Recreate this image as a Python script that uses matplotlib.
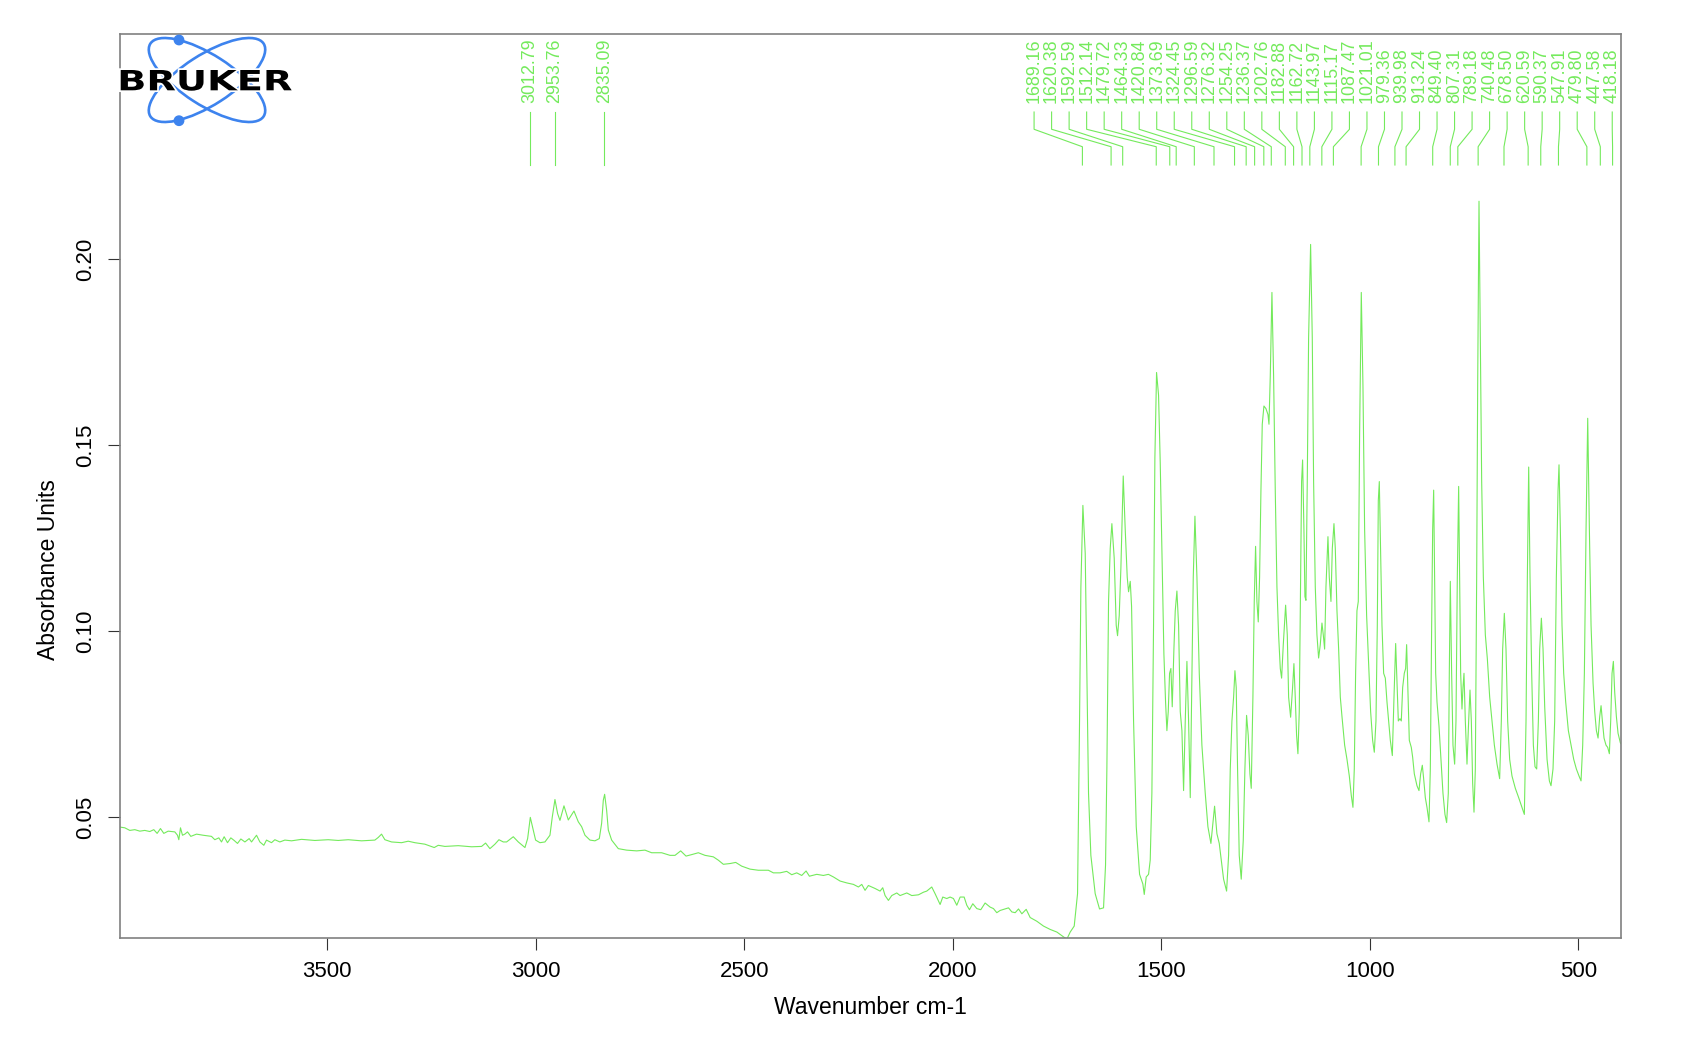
import numpy as np
import matplotlib
matplotlib.use("Agg")
import matplotlib.pyplot as plt
from matplotlib.patches import Ellipse, Circle, PathPatch
from matplotlib.textpath import TextPath
from matplotlib.font_manager import FontProperties
from matplotlib.transforms import Affine2D, blended_transform_factory

# ---------------- data ----------------
# region 1: 4000 - 2940 cm-1
wn_r1 = [3996.8, 3984.8, 3972.8, 3960.8, 3948.8, 3936.9, 3924.9, 3915.3, 3907.3, 3899.3,
         3891.3, 3880.9, 3864.9, 3858.5, 3855.3, 3851.3, 3846.5, 3840.9, 3834.5, 3826.5,
         3812.9, 3796.9, 3777.0, 3769.0, 3759.4, 3753.0, 3746.6, 3738.6, 3730.6, 3722.6,
         3714.6, 3706.6, 3696.9, 3686.7, 3681.0, 3669.0, 3661.0, 3651.5, 3645.1, 3633.1,
         3625.1, 3613.1, 3601.1, 3585.1, 3561.1, 3529.2, 3497.2, 3473.2, 3449.2, 3417.2,
         3385.3, 3377.3, 3369.3, 3361.3, 3345.3, 3321.3, 3305.4, 3289.4, 3265.4, 3243.0,
         3233.4, 3217.4, 3185.4, 3153.4, 3129.5, 3119.9, 3109.5, 3097.5, 3087.9, 3077.5,
         3069.5, 3053.5, 3041.5, 3025.5, 3019.1, 3012.7, 3007.2, 3000.0, 2989.6, 2977.6,
         2965.6, 2960.0, 2953.6, 2947.2, 2941.6]
ab_r1 = [0.0474, 0.0472, 0.0465, 0.0467, 0.0463, 0.0465, 0.0462, 0.0467, 0.0457, 0.0470,
         0.0457, 0.0463, 0.0461, 0.0452, 0.0440, 0.0472, 0.0452, 0.0455, 0.0461, 0.0449,
         0.0455, 0.0452, 0.0449, 0.0440, 0.0445, 0.0434, 0.0448, 0.0432, 0.0445, 0.0438,
         0.0430, 0.0442, 0.0434, 0.0443, 0.0434, 0.0452, 0.0434, 0.0425, 0.0439, 0.0432,
         0.0440, 0.0434, 0.0439, 0.0437, 0.0441, 0.0438, 0.0440, 0.0438, 0.0440, 0.0437,
         0.0439, 0.0446, 0.0455, 0.0440, 0.0434, 0.0432, 0.0436, 0.0432, 0.0428, 0.0419,
         0.0425, 0.0422, 0.0424, 0.0421, 0.0422, 0.0431, 0.0416, 0.0428, 0.0440, 0.0434,
         0.0434, 0.0448, 0.0434, 0.0419, 0.0443, 0.0500, 0.0474, 0.0439, 0.0432, 0.0434,
         0.0452, 0.0501, 0.0548, 0.0510, 0.0492]

# region 2: 2940 - 1890 cm-1
wn_r2 = [2932.0, 2921.6, 2908.0, 2897.6, 2889.6, 2881.6, 2869.7, 2857.7, 2847.3, 2841.7,
         2837.7, 2834.5, 2829.7, 2825.7, 2817.7, 2801.7, 2781.7, 2757.7, 2737.8, 2721.8,
         2697.8, 2677.8, 2665.8, 2652.2, 2639.4, 2625.8, 2609.9, 2593.9, 2573.9, 2561.9,
         2549.9, 2533.9, 2520.3, 2505.9, 2486.0, 2466.0, 2442.0, 2430.0, 2414.0, 2398.0,
         2386.0, 2374.0, 2362.0, 2351.6, 2343.6, 2326.0, 2310.1, 2298.1, 2286.1, 2270.1,
         2254.1, 2238.1, 2226.1, 2218.1, 2210.2, 2202.2, 2194.2, 2186.2, 2174.2, 2167.8,
         2162.2, 2154.2, 2146.2, 2134.2, 2126.2, 2110.2, 2098.2, 2082.2, 2070.2, 2062.3,
         2050.3, 2042.3, 2030.3, 2023.9, 2014.3, 2006.3, 1998.3, 1990.3, 1982.3, 1972.7,
         1966.3, 1959.9, 1951.9, 1942.3, 1932.8, 1922.4, 1910.4, 1902.4, 1894.4]
ab_r2 = [0.0531, 0.0493, 0.0517, 0.0488, 0.0475, 0.0452, 0.0439, 0.0437, 0.0443, 0.0484,
         0.0546, 0.0562, 0.0519, 0.0466, 0.0439, 0.0416, 0.0412, 0.0410, 0.0412, 0.0405,
         0.0405, 0.0398, 0.0398, 0.0410, 0.0396, 0.0400, 0.0405, 0.0398, 0.0394, 0.0385,
         0.0374, 0.0376, 0.0379, 0.0369, 0.0361, 0.0358, 0.0358, 0.0351, 0.0351, 0.0355,
         0.0346, 0.0351, 0.0344, 0.0356, 0.0342, 0.0347, 0.0344, 0.0347, 0.0340, 0.0329,
         0.0324, 0.0320, 0.0313, 0.0320, 0.0304, 0.0317, 0.0313, 0.0309, 0.0302, 0.0311,
         0.0290, 0.0277, 0.0290, 0.0297, 0.0290, 0.0297, 0.0290, 0.0292, 0.0299, 0.0302,
         0.0313, 0.0295, 0.0266, 0.0286, 0.0282, 0.0286, 0.0282, 0.0264, 0.0286, 0.0286,
         0.0264, 0.0252, 0.0268, 0.0255, 0.0252, 0.0270, 0.0259, 0.0255, 0.0244]

# region 3: 1890 - 1390 cm-1
wn_r3 = [1886.3, 1866.3, 1858.3, 1850.3, 1842.3, 1834.3, 1823.9, 1814.4, 1798.4, 1782.4,
         1766.4, 1750.4, 1734.4, 1726.4, 1718.4, 1708.8, 1700.8, 1696.0, 1692.8, 1688.0,
         1682.4, 1678.5, 1674.5, 1668.9, 1658.5, 1648.1, 1638.5, 1633.7, 1630.5, 1626.5,
         1622.5, 1618.5, 1612.9, 1608.1, 1604.9, 1600.9, 1596.9, 1591.3, 1586.5, 1581.7,
         1578.5, 1574.5, 1571.3, 1566.5, 1560.1, 1552.1, 1544.2, 1540.9, 1536.2, 1530.6,
         1526.6, 1522.6, 1518.6, 1515.4, 1511.4, 1506.6, 1502.6, 1497.8, 1493.8, 1489.8,
         1486.6, 1483.4, 1480.2, 1477.0, 1473.8, 1469.8, 1466.6, 1462.6, 1458.6, 1454.6,
         1450.6, 1446.6, 1442.6, 1438.6, 1434.6, 1430.6, 1426.6, 1423.4, 1419.4, 1414.6,
         1409.0, 1402.7, 1394.7]
ab_r3 = [0.0250, 0.0257, 0.0246, 0.0244, 0.0254, 0.0241, 0.0253, 0.0231, 0.0221, 0.0208,
         0.0199, 0.0192, 0.0179, 0.0173, 0.0192, 0.0208, 0.0295, 0.0759, 0.1119, 0.1338,
         0.1209, 0.0887, 0.0565, 0.0398, 0.0295, 0.0254, 0.0257, 0.0372, 0.0630, 0.1080,
         0.1222, 0.1289, 0.1196, 0.1016, 0.0988, 0.1042, 0.1170, 0.1417, 0.1273, 0.1145,
         0.1106, 0.1134, 0.1067, 0.0759, 0.0475, 0.0347, 0.0321, 0.0293, 0.0340, 0.0347,
         0.0385, 0.0565, 0.1016, 0.1466, 0.1695, 0.1634, 0.1453, 0.1170, 0.0939, 0.0810,
         0.0733, 0.0784, 0.0887, 0.0900, 0.0797, 0.0952, 0.1055, 0.1108, 0.1016, 0.0784,
         0.0733, 0.0572, 0.0759, 0.0919, 0.0759, 0.0553, 0.0887, 0.1145, 0.1309, 0.1145,
         0.0887, 0.0694, 0.0565]

# region 4: 1390 - 895 cm-1
wn_r4 = [1388.3, 1381.1, 1377.1, 1372.3, 1366.7, 1361.1, 1356.3, 1350.7, 1343.5, 1338.7,
         1334.7, 1330.7, 1326.7, 1323.5, 1320.4, 1317.2, 1313.2, 1308.4, 1303.6, 1299.6,
         1295.6, 1291.6, 1287.6, 1284.4, 1280.4, 1277.2, 1274.0, 1270.8, 1267.6, 1264.4,
         1261.2, 1258.0, 1254.0, 1249.2, 1244.3, 1241.9, 1238.8, 1234.8, 1230.8, 1226.8,
         1222.8, 1218.8, 1214.8, 1211.6, 1207.6, 1202.0, 1198.0, 1194.8, 1190.0, 1185.3,
         1182.1, 1178.9, 1175.7, 1172.5, 1169.3, 1166.1, 1163.7, 1161.3, 1158.1, 1155.7,
         1153.3, 1150.1, 1146.9, 1142.1, 1138.1, 1134.9, 1130.9, 1126.9, 1122.9, 1118.9,
         1114.9, 1111.7, 1108.5, 1105.3, 1100.5, 1097.3, 1093.3, 1090.1, 1086.1, 1082.9,
         1078.9, 1074.9, 1070.9, 1066.9, 1060.5, 1054.9, 1049.3, 1044.6, 1040.6, 1037.4,
         1034.2, 1031.0, 1027.8, 1024.6, 1020.6, 1016.6, 1012.6, 1007.8, 1003.0, 998.2,
         993.4, 989.4, 985.4, 982.2, 979.8, 977.4, 974.2, 971.0, 967.0, 963.0,
         959.0, 955.0, 951.0, 946.2, 942.2, 938.2, 935.0, 931.8, 927.9, 924.7,
         921.4, 917.5, 914.3, 911.9, 908.7, 905.5, 900.7, 897.5]
ab_r4 = [0.0475, 0.0430, 0.0475, 0.0530, 0.0456, 0.0430, 0.0385, 0.0334, 0.0302, 0.0398,
         0.0630, 0.0759, 0.0823, 0.0894, 0.0849, 0.0630, 0.0398, 0.0334, 0.0437, 0.0630,
         0.0774, 0.0720, 0.0617, 0.0578, 0.0823, 0.1080, 0.1228, 0.1080, 0.1025, 0.1145,
         0.1376, 0.1556, 0.1605, 0.1598, 0.1582, 0.1556, 0.1685, 0.1910, 0.1685, 0.1376,
         0.1119, 0.0990, 0.0900, 0.0874, 0.0964, 0.1070, 0.0990, 0.0823, 0.0769, 0.0849,
         0.0913, 0.0823, 0.0720, 0.0671, 0.0784, 0.1145, 0.1402, 0.1460, 0.1273, 0.1093,
         0.1083, 0.1402, 0.1788, 0.2039, 0.1788, 0.1402, 0.1119, 0.0990, 0.0928, 0.0964,
         0.1022, 0.0990, 0.0952, 0.1119, 0.1254, 0.1145, 0.1080, 0.1222, 0.1289, 0.1222,
         0.1055, 0.0952, 0.0823, 0.0771, 0.0694, 0.0656, 0.0611, 0.0559, 0.0527, 0.0630,
         0.0887, 0.1055, 0.1080, 0.1531, 0.1910, 0.1659, 0.1273, 0.1042, 0.0913, 0.0784,
         0.0707, 0.0675, 0.0759, 0.1016, 0.1351, 0.1402, 0.1209, 0.1016, 0.0887, 0.0874,
         0.0810, 0.0759, 0.0707, 0.0666, 0.0823, 0.0967, 0.0861, 0.0759, 0.0765, 0.0759,
         0.0849, 0.0887, 0.0900, 0.0964, 0.0836, 0.0707, 0.0688, 0.0662]

# region 5: 895 - 398 cm-1
wn_r5 = [893.5, 887.1, 882.3, 878.3, 874.3, 871.1, 867.1, 863.1, 858.3, 855.1,
         851.9, 849.5, 847.1, 844.7, 842.3, 839.1, 834.3, 829.5, 824.8, 820.0,
         816.0, 812.0, 809.6, 807.2, 804.0, 800.8, 796.8, 793.6, 790.4, 787.2,
         784.8, 782.4, 779.2, 776.8, 774.4, 771.2, 767.2, 763.2, 760.0, 756.8,
         753.6, 750.4, 747.2, 744.0, 741.6, 738.4, 735.2, 732.0, 728.0, 723.2,
         718.4, 712.8, 707.2, 701.6, 695.2, 688.9, 684.9, 681.7, 677.7, 673.7,
         669.7, 664.9, 659.3, 651.3, 643.3, 635.3, 629.7, 625.7, 622.5, 619.3,
         616.1, 612.1, 608.1, 604.1, 600.1, 596.1, 592.9, 588.9, 584.9, 580.9,
         575.3, 569.7, 565.8, 561.0, 557.0, 553.0, 549.0, 546.6, 543.4, 539.4,
         535.4, 530.6, 524.2, 517.8, 511.4, 505.0, 498.6, 493.8, 489.8, 485.8,
         481.8, 477.8, 473.8, 469.8, 465.0, 461.0, 457.0, 453.0, 449.0, 445.8,
         442.6, 438.7, 433.9, 429.9, 425.9, 422.7, 419.5, 416.3, 413.1, 409.1,
         405.1, 399.5, 398.0]
ab_r5 = [0.0617, 0.0585, 0.0572, 0.0617, 0.0640, 0.0604, 0.0553, 0.0527, 0.0488, 0.0630,
         0.1016, 0.1273, 0.1379, 0.1145, 0.0887, 0.0810, 0.0745, 0.0656, 0.0565, 0.0508,
         0.0486, 0.0565, 0.0887, 0.1134, 0.0887, 0.0694, 0.0643, 0.0759, 0.1145, 0.1389,
         0.1145, 0.0887, 0.0791, 0.0849, 0.0887, 0.0759, 0.0643, 0.0759, 0.0842, 0.0759,
         0.0591, 0.0514, 0.0630, 0.1145, 0.1659, 0.2155, 0.1788, 0.1402, 0.1145, 0.0990,
         0.0926, 0.0823, 0.0759, 0.0694, 0.0643, 0.0604, 0.0759, 0.0952, 0.1048, 0.0952,
         0.0759, 0.0656, 0.0611, 0.0578, 0.0553, 0.0527, 0.0508, 0.0759, 0.1145, 0.1441,
         0.1145, 0.0887, 0.0694, 0.0636, 0.0630, 0.0759, 0.0952, 0.1035, 0.0952, 0.0797,
         0.0656, 0.0598, 0.0585, 0.0630, 0.0759, 0.1145, 0.1376, 0.1447, 0.1273, 0.1016,
         0.0887, 0.0810, 0.0733, 0.0694, 0.0656, 0.0630, 0.0611, 0.0598, 0.0694, 0.0887,
         0.1273, 0.1572, 0.1273, 0.1016, 0.0861, 0.0784, 0.0733, 0.0713, 0.0771, 0.0800,
         0.0759, 0.0713, 0.0694, 0.0688, 0.0671, 0.0759, 0.0887, 0.0919, 0.0836, 0.0771,
         0.0726, 0.0700, 0.0698]

peak_labels = [3012.79, 2953.76, 2835.09, 1689.16, 1620.38, 1592.59, 1512.14, 1479.72,
               1464.33, 1420.84, 1373.69, 1324.45, 1296.59, 1276.32, 1254.25, 1236.37,
               1202.76, 1182.88, 1162.72, 1143.97, 1115.17, 1087.47, 1021.01, 979.36,
               939.98, 913.24, 849.40, 807.31, 789.18, 740.48, 678.50, 620.59, 590.37,
               547.91, 479.80, 447.58, 418.18]

x_ticks = [3500, 3000, 2500, 2000, 1500, 1000, 500]
y_ticks = [0.05, 0.10, 0.15, 0.20]
y_tick_labels = ["0.05", "0.10", "0.15", "0.20"]

# ---------------- style ----------------
GREEN = "#74EA5C"
BLUE = "#3D83EE"
W, H = 1704, 1046

plt.rcParams["font.family"] = ["Liberation Sans", "DejaVu Sans"]

wn = np.concatenate([wn_r1, wn_r2, wn_r3, wn_r4, wn_r5])
ab = np.concatenate([ab_r1, ab_r2, ab_r3, ab_r4, ab_r5])

fig = plt.figure(figsize=(W / 100, H / 100), dpi=100)
ax_left, ax_right, ax_top, ax_bot = 119.5, 1621.0, 33.7, 938.0
ax = fig.add_axes([ax_left / W, 1 - ax_bot / H, (ax_right - ax_left) / W, (ax_bot - ax_top) / H])

ax.plot(wn, ab, color=GREEN, lw=0.8)
ax.set_xlim(3997.5, 398)
ax.set_ylim(0.0176, 0.2605)

ax.set_xticks(x_ticks)
ax.set_xticklabels([str(t) for t in x_ticks])
ax.set_yticks(y_ticks)
ax.set_yticklabels(y_tick_labels)
ax.tick_params(axis="both", direction="out", length=8.6, width=0.8, color="#333333",
               labelsize=16, pad=8)
for lab in ax.get_yticklabels():
    lab.set_rotation(90)
    lab.set_va("center")
for s in ax.spines.values():
    s.set_color("#808080")
    s.set_linewidth(1.2)

fig.text(870 / W, 1 - 1007.7 / H, "Wavenumber cm-1", ha="center", va="center", fontsize=16.5)
fig.text(49 / W, 1 - 570 / H, "Absorbance Units", ha="center", va="center",
         rotation=90, fontsize=16.5)

# ---------------- peak labels with leader lines ----------------
pk = np.array(peak_labels)
px = ax.transData.transform(np.column_stack([pk, np.full(len(pk), 0.05)]))[:, 0]
x0_disp = ax.transData.transform((3997.5, 0.05))[0]
x1_disp = ax.transData.transform((398, 0.05))[0]
d = 17.52
lo, hi = x0_disp + d / 2, x1_disp - d / 2


def fit(g):
    n, s = g[1], g[2]
    start = s / n - (n - 1) * d / 2
    start = max(lo, min(start, hi - (n - 1) * d))
    g[0] = start


groups = []
for p in px:
    groups.append([p, 1, p])
    fit(groups[-1])
    while len(groups) > 1 and groups[-2][0] + groups[-2][1] * d > groups[-1][0] + 1e-6:
        b = groups.pop()
        a = groups[-1]
        a[1] += b[1]
        a[2] += b[2]
        fit(a)

lab_px = []
for g in groups:
    lab_px.extend([g[0] + i * d for i in range(g[1])])
lab_px = np.array(lab_px)
lab_x = ax.transData.inverted().transform(np.column_stack([lab_px, np.full(len(lab_px), 0.05)]))[:, 0]

trans = blended_transform_factory(ax.transData, ax.transAxes)
y_text, y1, y2, y3, y4 = 0.9234, 0.9134, 0.8943, 0.8750, 0.8548
for p, lx in zip(pk, lab_x):
    ax.plot([lx, lx, p, p], [y1, y2, y3, y4], transform=trans, color=GREEN, lw=0.8,
            clip_on=False)
    ax.text(lx, y_text, f"{p:.2f}", transform=trans, rotation=90, ha="center", va="bottom",
            fontsize=12.9, color=GREEN)

# ---------------- Bruker logo ----------------
lax = fig.add_axes([0, 0, 1, 1], zorder=5)
lax.set_xlim(0, W)
lax.set_ylim(H, 0)
lax.axis("off")
lax.patch.set_alpha(0)
for ang in (32.7, -32.7):
    lax.add_patch(Ellipse((207, 80), 134.6, 50, angle=ang, fill=False, ec=BLUE, lw=1.9))
for cy in (40.0, 120.7):
    lax.add_patch(Circle((179, cy), 4.7, color=BLUE))
tp = TextPath((0, 0), "BRUKER", size=100, prop=FontProperties(family="DejaVu Sans", weight="bold"))
bb = tp.get_extents()
tr = Affine2D().translate(-bb.x0, -bb.y0).scale(171 / bb.width, -20.7 / bb.height).translate(120.7, 90.7)
path = tr.transform_path(tp)
lax.add_patch(PathPatch(path, fc="black", ec="white", lw=2.5, zorder=3))
lax.add_patch(PathPatch(path, fc="black", ec="none", zorder=4))

fig.savefig("out.png", dpi=100)
